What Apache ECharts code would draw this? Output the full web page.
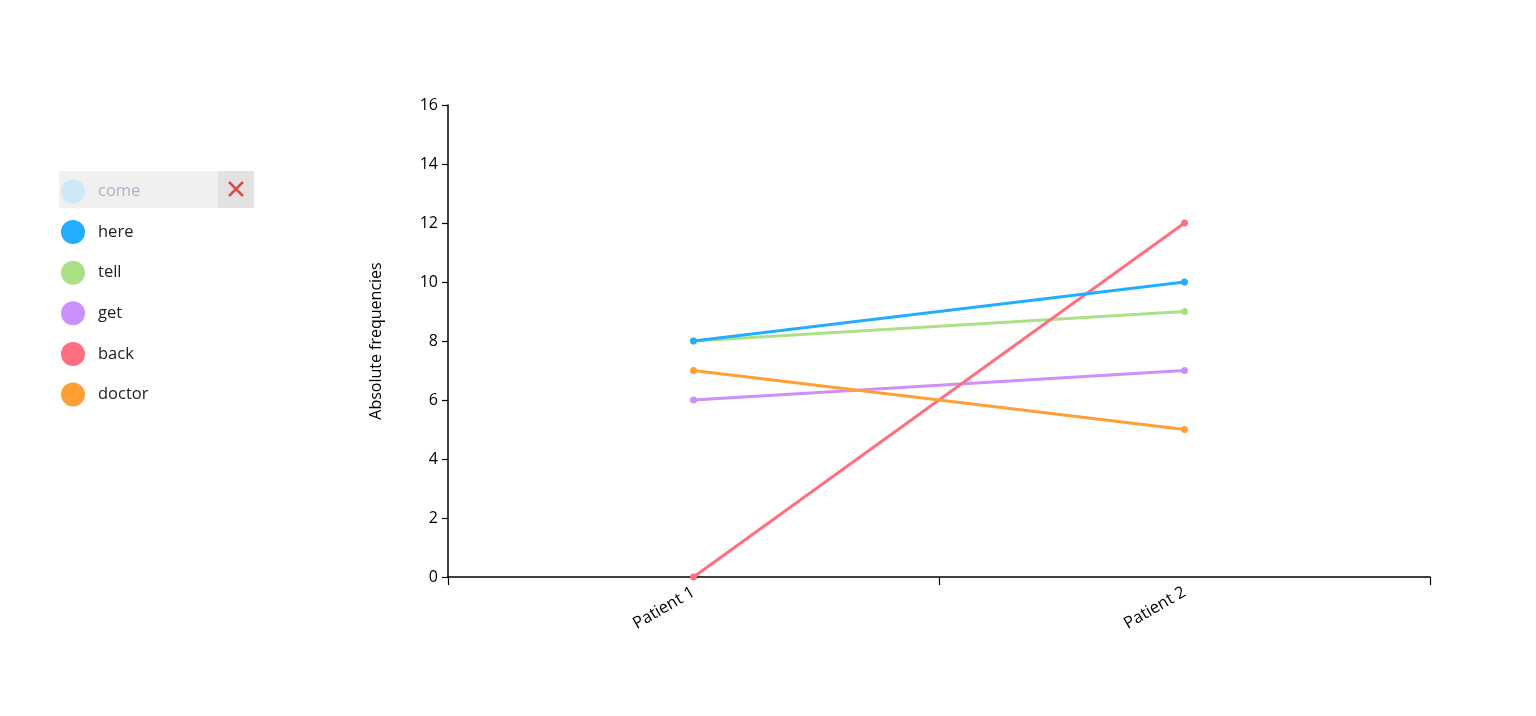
<!DOCTYPE html>
<html>
<head>
<meta charset="utf-8">
<script src="https://cdn.jsdelivr.net/npm/echarts@6/dist/echarts.min.js"></script>
<style>
  html, body { margin: 0; padding: 0; background: #fff; }
  #main { width: 1536px; height: 716px; }
</style>
</head>
<body>
<div id="main"></div>
<script>
var categories = ['Patient 1', 'Patient 2'];
var seriesNames = ['come', 'here', 'tell', 'get', 'back', 'doctor'];
var comeData = [9, 11];
var hereData = [8, 10];
var tellData = [8, 9];
var getData = [6, 7];
var backData = [0, 12];
var doctorData = [7, 5];
var yTicks = [0, 2, 4, 6, 8, 10, 12, 14, 16];

var colors = ['#87cdee', '#22adff', '#abe086', '#cc8ffc', '#ff6f80', '#ff9f36'];
var allData = [comeData, hereData, tellData, getData, backData, doctorData];

var chart = echarts.init(document.getElementById('main'));

var series = [];
for (var i = 0; i < seriesNames.length; i++) {
    series.push({
        name: seriesNames[i],
        type: 'line',
        data: allData[i],
        symbol: 'circle',
        symbolSize: 7,
        z: seriesNames[i] == 'here' ? 5 : 2,
        lineStyle: { width: 3 },
        itemStyle: { color: colors[i] }
    });
}

var option = {
    animation: false,
    color: colors,
    textStyle: { fontFamily: 'Open Sans' },
    legend: {
        orient: 'vertical',
        left: 61,
        top: 179.5,
        padding: 0,
        icon: 'circle',
        itemWidth: 24,
        itemHeight: 24,
        itemGap: 16.6,
        inactiveColor: '#cde9f6',
        selected: { come: false },
        // hidden series keeps its greyish label
        formatter: function (name) {
            return name == 'come' ? '{off|' + name + '}' : name;
        },
        textStyle: {
            fontSize: 16.5,
            color: '#222',
            fontFamily: 'Open Sans',
            padding: [0, 0, 0, 8],
            rich: { off: { color: '#a9b5c7', fontSize: 16.5, fontFamily: 'Open Sans' } }
        },
        data: seriesNames
    },
    graphic: [
        { type: 'rect', z: -1, shape: { x: 59, y: 171, width: 195, height: 37 }, style: { fill: '#f0f0f0' } },
        { type: 'rect', z: -1, shape: { x: 218, y: 171, width: 36, height: 37 }, style: { fill: '#e2e2e2' } },
        { type: 'line', shape: { x1: 229, y1: 182, x2: 243, y2: 196 }, style: { stroke: '#dd4b4b', lineWidth: 2.5 } },
        { type: 'line', shape: { x1: 243, y1: 182, x2: 229, y2: 196 }, style: { stroke: '#dd4b4b', lineWidth: 2.5 } }
    ],
    grid: {
        left: 448,
        right: 106,
        top: 105,
        bottom: 139,
        containLabel: false
    },
    xAxis: {
        type: 'category',
        data: categories,
        boundaryGap: true,
        axisLine: { lineStyle: { color: '#000', width: 1.5 } },
        axisTick: { show: true, length: 8, lineStyle: { color: '#000', width: 1.2 } },
        axisLabel: { rotate: 30, fontSize: 16.5, color: '#000', margin: 14 }
    },
    yAxis: {
        type: 'value',
        min: 0,
        max: 16,
        interval: 2,
        name: 'Absolute frequencies',
        nameLocation: 'middle',
        nameGap: 64,
        nameTextStyle: { fontSize: 16, color: '#000' },
        axisLine: { show: true, lineStyle: { color: '#000', width: 1.5 } },
        axisTick: { show: true, length: 6, lineStyle: { color: '#000', width: 1.2 } },
        splitLine: { show: false },
        axisLabel: {
            fontSize: 16,
            color: '#000',
            margin: 10,
            formatter: function (v) { return yTicks.indexOf(v) >= 0 ? String(v) : ''; }
        }
    },
    series: series
};
chart.setOption(option);
</script>
</body>
</html>
